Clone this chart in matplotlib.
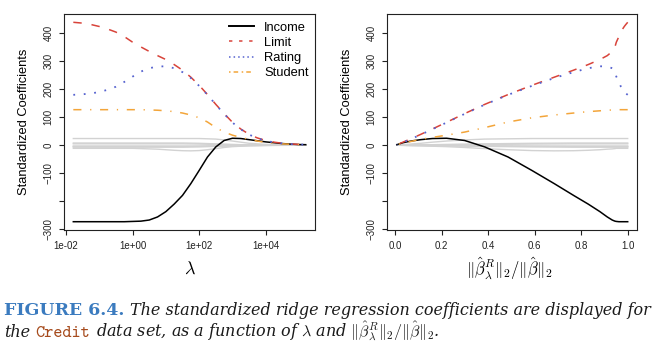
import numpy as np
import matplotlib
matplotlib.use("Agg")
import matplotlib.pyplot as plt
from matplotlib.lines import Line2D

# ---------------- data ----------------
log10_lambda = [-1.78, -1.5, -1.25, -1.0, -0.75, -0.5, -0.25, 0.0, 0.25, 0.5,
                0.75, 1.0, 1.25, 1.5, 1.75, 2.0, 2.25, 2.5, 2.75, 3.0,
                3.25, 3.5, 3.75, 4.0, 4.25, 4.5, 4.75, 5.0, 5.2]

income = [-273, -273, -273, -273, -273, -273, -273, -272, -271, -267,
          -256, -237, -210, -179, -137, -90, -42, -6, 17, 25,
          24, 20, 16, 12, 9, 6, 4, 2.5, 2]
limit = [439, 436, 431, 424, 415, 404, 388, 368, 351, 335,
         320, 306, 288, 268, 243, 214, 181, 146, 113, 82,
         58, 39, 26, 17, 11, 7, 4.5, 3, 2]
rating = [180, 182, 185, 190, 198, 209, 226, 245, 263, 275,
          281, 282, 275, 261, 240, 212, 180, 145, 112, 81,
          57, 38, 25, 16, 10, 6.5, 4, 3, 2]
student = [127, 127, 127, 127, 127, 127, 127, 127, 127, 126,
           125, 123, 120, 115, 108, 98, 83, 63, 47, 36,
           28, 21, 15, 10, 7, 5, 3.5, 2.5, 2]

# other (grey) predictors
cards = [24, 24, 24, 24, 24, 24, 24, 24, 24, 24,
         24, 24, 24, 24, 24, 24, 23, 22, 19, 15,
         11, 7, 5, 3, 2, 1, 0.5, 0.3, 0.2]
asian = [8, 8, 8, 8, 8, 8, 8, 8, 8, 8,
         8, 8, 8, 8, 7.5, 7, 6, 5, 4, 3,
         2, 1.5, 1, 0.5, 0.3, 0.2, 0.1, 0.1, 0]
caucasian = [5, 5, 5, 5, 5, 5, 5, 5, 5, 5,
             5, 5, 5, 5, 4.6, 4.2, 3.5, 3, 2.3, 1.8,
             1.3, 0.9, 0.6, 0.4, 0.2, 0.1, 0.1, 0.1, 0]
education = [-3, -3, -3, -3, -3, -3, -3, -3, -3, -3,
             -3, -3, -3, -3, -3, -2.8, -2.5, -2, -1.7, -1.3,
             -1, -0.7, -0.5, -0.3, -0.2, -0.1, -0.1, 0, 0]
married = [-4, -4, -4, -4, -4, -4, -4, -4, -4, -4,
           -4, -4, -4, -4, -3.8, -3.5, -3, -2.5, -2, -1.5,
           -1.1, -0.8, -0.5, -0.3, -0.2, -0.1, -0.1, 0, 0]
gender = [-7, -7, -7, -7, -7, -7, -7, -7, -7, -7,
          -7, -7, -7, -7, -6.5, -6, -5, -4, -3, -2.2,
          -1.6, -1.1, -0.7, -0.4, -0.3, -0.2, -0.1, 0, 0]
age = [-11, -11, -11, -11, -11, -11, -11, -11, -12, -13,
       -14, -16, -18, -19.5, -20, -19, -16, -12, -8, -5,
       -3.5, -2, -1.5, -1, -0.6, -0.4, -0.2, -0.1, 0]

series_names = ["Income", "Limit", "Rating", "Student"]
x_ticks_left = [1e-2, 1e0, 1e2, 1e4]
x_ticklabels_left = ["1e-02", "1e+00", "1e+02", "1e+04"]
x_ticks_right = [0.0, 0.2, 0.4, 0.6, 0.8, 1.0]
x_ticklabels_right = ["0.0", "0.2", "0.4", "0.6", "0.8", "1.0"]
y_ticks = [-300, -200, -100, 0, 100, 200, 300, 400]
y_ticklabels = ["\u2212300", "", "\u2212100", "0", "100", "200", "300", "400"]

# ---------------- style ----------------
plt.rcParams['font.family'] = ['Liberation Sans', 'DejaVu Sans']
plt.rcParams['mathtext.fontset'] = 'cm'

C_INC = "black"
C_LIM = "#d8433a"
C_RAT = "#5562cf"
C_STU = "#f3a53a"
C_GRY = "#d2d2d2"
AX_COL = "#222222"

LS_LIM = (0, (5.5, 6.5))
LS_RAT = (0, (1, 4.8))
LS_STU = (0, (5.3, 5.7, 0.8, 5.7))

W, H = 657, 348
fig = plt.figure(figsize=(W / 100, H / 100), dpi=100)
axL = fig.add_axes([64 / W, 1 - 230 / H, 251 / W, 216 / H])
axR = fig.add_axes([387 / W, 1 - 230 / H, 250 / W, 216 / H])

lam = 10.0 ** np.array(log10_lambda)
greys = [cards, asian, caucasian, education, married, gender, age]
main = [income, limit, rating, student]
allc = np.array(main + greys, dtype=float)
norm = np.sqrt((allc ** 2).sum(axis=0))
ratio = norm / norm[0]

for ax, xv in ((axL, lam), (axR, ratio)):
    for g in greys:
        ax.plot(xv, g, color=C_GRY, lw=1.0, zorder=1)
    ax.plot(xv, income, color=C_INC, lw=1.1, zorder=3)
    ax.plot(xv, limit, color=C_LIM, lw=1.1, ls=LS_LIM, zorder=3)
    ax.plot(xv, rating, color=C_RAT, lw=1.3, ls=LS_RAT, zorder=4)
    ax.plot(xv, student, color=C_STU, lw=1.1, ls=LS_STU, zorder=3)

axL.set_xscale('log')
axL.set_xlim(10 ** -2.06, 10 ** 5.48)
axL.set_xticks(x_ticks_left)
axL.set_xticklabels(x_ticklabels_left)
axL.minorticks_off()
axR.set_xlim(-0.035, 1.04)
axR.set_xticks(x_ticks_right)
axR.set_xticklabels(x_ticklabels_right)

for ax in (axL, axR):
    ax.set_ylim(-302.6, 468.6)
    ax.set_yticks(y_ticks)
    ax.set_yticklabels(y_ticklabels, rotation=90, va='center')
    ax.tick_params(direction='out', length=3.6, width=0.8, labelsize=7,
                   pad=4, colors=AX_COL)
    for sp in ax.spines.values():
        sp.set_color(AX_COL)
        sp.set_linewidth(0.8)
    ax.set_ylabel("Standardized Coefficients", fontsize=9.3, va='center')
    ax.yaxis.set_label_coords(-0.16, 0.5)

axL.set_xlabel(r"$\lambda$", fontsize=13, va='center')
axL.xaxis.set_label_coords(0.5, -0.18)
axR.set_xlabel(r"$\|\hat{\beta}^R_\lambda\|_2/\|\hat{\beta}\|_2$", fontsize=12, va='center')
axR.xaxis.set_label_coords(0.49, -0.18)

handles = [
    Line2D([], [], color=C_INC, lw=1.4),
    Line2D([], [], color=C_LIM, lw=1.1, ls=(0, (2.2, 4.4))),
    Line2D([], [], color=C_RAT, lw=1.1, ls=(0, (1, 2))),
    Line2D([], [], color=C_STU, lw=1.1, ls=(0, (1, 2, 3, 2.3))),
]
axL.legend(handles, series_names, loc='upper right', bbox_to_anchor=(0.975, 0.965),
           frameon=False, fontsize=9.3, handlelength=1.95, handletextpad=0.8,
           labelspacing=0.25, borderpad=0, borderaxespad=0)

# ---------------- caption ----------------
renderer = fig.canvas.get_renderer()
BLUE = "#3b7bbf"
BROWN = "#a64b1d"
TXT = "#1a1a1a"
it_kw = dict(family=['DejaVu Serif'], style='italic', color=TXT)
bold_kw = dict(family=['DejaVu Serif'], weight='bold', color=BLUE)
tt_kw = dict(family=['cmtt10'], color=BROWN)

cap1_bold = "FIGURE 6.4."
cap1_text = "The standardized ridge regression coefficients are displayed for"
cap2_a = "the"
cap2_code = "Credit"
cap2_b = r"data set, as a function of $\lambda$ and $\|\hat{\beta}^R_\lambda\|_2/\|\hat{\beta}\|_2$."


def width_at(txt, kw, fs):
    t = fig.text(0, 0, txt, fontsize=fs, **kw)
    w = t.get_window_extent(renderer).width
    t.remove()
    return w


def put(txt, kw, x0, base, fs):
    t = fig.text(x0 / W, 1 - base / H, txt, fontsize=fs, va='baseline', ha='left', **kw)
    return t.get_window_extent(renderer).x1


fs_bold = 10 * 121 / width_at(cap1_bold, bold_kw, 10)
x = put(cap1_bold, bold_kw, 4, 315, fs_bold) + 6
fs_it = 10 * (651 - x) / width_at(cap1_text, it_kw, 10)
put(cap1_text, it_kw, x, 315, fs_it)

fs_tt = 10 * 55 / width_at(cap2_code, tt_kw, 10)
x = put(cap2_a, it_kw, 4, 337, fs_it) + 5
x = put(cap2_code, tt_kw, x, 337, fs_tt) + 6
put(cap2_b, it_kw, x, 337, fs_it)

fig.savefig("out.png", dpi=100)
